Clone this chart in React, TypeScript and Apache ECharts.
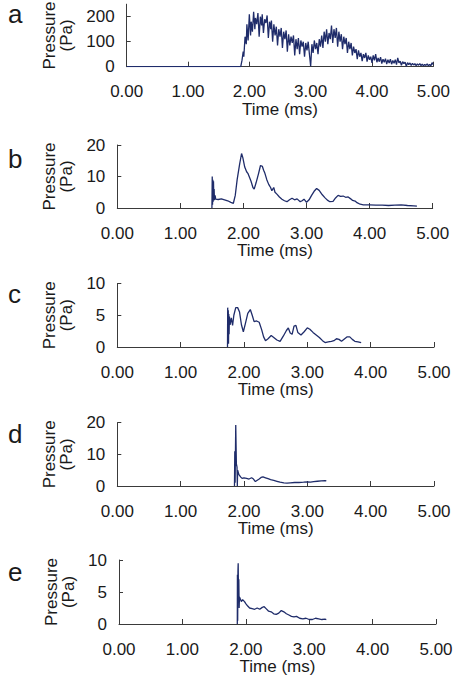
import React, { useEffect, useRef } from "react";
import * as echarts from "echarts";

// ---------- data (time in ms, pressure in Pa) ----------
const panelLetters = ["a", "b", "c", "d", "e"];
const xTicks = [0, 1, 2, 3, 4, 5];

const aYTicks = [0, 100, 200];
const bYTicks = [0, 10, 20];
const cYTicks = [0, 5, 10];
const dYTicks = [0, 10, 20];
const eYTicks = [0, 5, 10];

const panelA: number[][] = [
  [0, 0], [1.86, 0], [1.88, 25], [1.9, 60], [1.91, 40], [1.93, 120], [1.95, 90], [1.96, 170],
  [1.98, 105], [2.0, 210], [2.02, 125], [2.03, 180], [2.05, 140], [2.07, 220], [2.09, 150],
  [2.1, 195], [2.12, 170], [2.14, 215], [2.16, 120], [2.18, 200], [2.2, 165], [2.21, 210],
  [2.23, 135], [2.25, 190], [2.27, 175], [2.29, 205], [2.31, 115], [2.33, 180], [2.35, 150],
  [2.36, 185], [2.38, 100], [2.4, 170], [2.42, 125], [2.44, 160], [2.46, 85], [2.48, 150],
  [2.5, 120], [2.52, 155], [2.54, 75], [2.56, 140], [2.58, 110], [2.6, 145], [2.62, 60],
  [2.64, 130], [2.66, 85], [2.68, 120], [2.7, 95], [2.72, 125], [2.74, 45], [2.76, 110],
  [2.78, 70], [2.8, 115], [2.82, 50], [2.84, 105], [2.86, 80], [2.88, 100], [2.9, 40],
  [2.92, 95], [2.94, 65], [2.96, 100], [2.98, 50], [3.0, 2], [3.02, 90], [3.04, 55],
  [3.06, 105], [3.08, 70], [3.1, 95], [3.12, 50], [3.14, 110], [3.16, 80], [3.18, 125],
  [3.2, 75], [3.22, 140], [3.24, 100], [3.26, 150], [3.28, 90], [3.3, 135], [3.32, 110],
  [3.34, 165], [3.36, 95], [3.38, 150], [3.4, 115], [3.42, 155], [3.44, 80], [3.46, 140],
  [3.48, 100], [3.5, 130], [3.52, 70], [3.54, 120], [3.56, 90], [3.58, 115], [3.6, 55],
  [3.62, 100], [3.64, 70], [3.66, 95], [3.68, 45], [3.7, 80], [3.72, 55], [3.74, 70],
  [3.76, 30], [3.78, 65], [3.8, 40], [3.82, 55], [3.84, 22], [3.86, 50], [3.88, 35],
  [3.9, 55], [3.92, 20], [3.94, 45], [3.96, 28], [3.98, 40], [4.0, 15], [4.02, 45],
  [4.04, 25], [4.06, 50], [4.08, 18], [4.1, 35], [4.12, 20], [4.14, 38], [4.16, 12],
  [4.18, 30], [4.2, 18], [4.22, 32], [4.24, 10], [4.26, 28], [4.28, 15], [4.3, 30],
  [4.32, 10], [4.34, 25], [4.36, 14], [4.38, 28], [4.4, 8], [4.42, 35], [4.44, 15],
  [4.46, 22], [4.48, 6], [4.5, 20], [4.52, 12], [4.54, 18], [4.56, 2], [4.58, 16],
  [4.6, 8], [4.62, 15], [4.64, 5], [4.66, 13], [4.68, 7], [4.7, 12], [4.72, 4],
  [4.74, 11], [4.76, 6], [4.78, 12], [4.8, 4], [4.82, 10], [4.84, 3], [4.86, 9],
  [4.88, 5], [4.9, 11], [4.92, 3], [4.94, 9], [4.96, 4], [4.98, 16], [5.0, 8],
];

const panelB: number[][] = [
  [1.5, 0], [1.505, 10], [1.51, 1], [1.515, 9], [1.52, 2], [1.525, 8.5], [1.53, 3],
  [1.535, 6], [1.54, 2.5], [1.55, 4], [1.56, 2.8], [1.6, 2.7], [1.65, 2.9], [1.7, 2.6],
  [1.75, 2.3], [1.8, 1.8], [1.84, 1.5], [1.87, 4], [1.9, 9], [1.94, 14], [1.97, 17.3],
  [1.99, 16], [2.02, 13], [2.05, 11.5], [2.07, 11], [2.1, 9.5], [2.12, 8.5], [2.15, 6.5],
  [2.17, 6], [2.2, 8], [2.24, 11], [2.27, 13.5], [2.3, 13.2], [2.32, 12], [2.34, 11],
  [2.37, 9], [2.4, 7.5], [2.43, 6.5], [2.45, 5.5], [2.48, 6.5], [2.5, 5], [2.53, 4.4],
  [2.57, 3.5], [2.61, 2.8], [2.65, 2.3], [2.69, 2.0], [2.73, 2.6], [2.77, 3.1], [2.81, 2.6],
  [2.85, 2.9], [2.9, 2.0], [2.93, 2.3], [2.96, 2.8], [3.0, 1.8], [3.04, 2.6], [3.08, 4.0],
  [3.12, 5.3], [3.16, 6.2], [3.2, 5.6], [3.25, 4.2], [3.29, 3.3], [3.33, 2.5], [3.37, 2.0],
  [3.42, 2.1], [3.46, 3.2], [3.5, 4.0], [3.54, 3.7], [3.58, 3.8], [3.62, 3.4], [3.66, 3.5],
  [3.7, 2.9], [3.73, 2.4], [3.77, 2.2], [3.8, 1.7], [3.85, 1.2], [3.9, 1.0], [4.0, 1.0],
  [4.1, 0.9], [4.2, 0.9], [4.3, 0.8], [4.4, 0.9], [4.5, 1.0], [4.6, 0.8], [4.7, 0.7],
  [4.75, 0.6],
];

const panelC: number[][] = [
  [1.74, 0], [1.743, 6.2], [1.748, 1], [1.752, 5.8], [1.756, 0.5], [1.76, 5.2], [1.765, 2],
  [1.77, 4.8], [1.78, 3.5], [1.8, 4.6], [1.82, 3.4], [1.84, 5], [1.87, 6.2], [1.9, 6.2],
  [1.93, 5.5], [1.96, 3.5], [1.99, 2.4], [2.02, 3.6], [2.06, 5.3], [2.1, 5.9], [2.13, 5.0],
  [2.16, 4.0], [2.2, 4.1], [2.24, 3.9], [2.28, 2.7], [2.31, 1.6], [2.34, 1.0], [2.38, 1.3],
  [2.43, 1.8], [2.47, 1.5], [2.52, 1.1], [2.57, 0.9], [2.62, 1.7], [2.67, 2.6], [2.7, 3.0],
  [2.73, 2.2], [2.76, 2.0], [2.79, 3.3], [2.82, 3.4], [2.85, 2.3], [2.9, 1.9], [2.95, 2.4],
  [3.0, 3.0], [3.04, 2.8], [3.09, 2.3], [3.14, 1.9], [3.19, 1.5], [3.24, 1.0], [3.28, 0.7],
  [3.33, 0.8], [3.38, 0.9], [3.42, 1.0], [3.46, 1.3], [3.5, 1.2], [3.54, 0.9], [3.59, 1.3],
  [3.63, 1.6], [3.67, 1.6], [3.71, 1.2], [3.75, 0.9], [3.8, 0.8], [3.85, 0.7],
];

const panelD: number[][] = [
  [1.85, 0], [1.855, 11], [1.86, 1], [1.87, 19.3], [1.88, 7], [1.89, 6], [1.895, 0],
  [1.9, 5], [1.92, 3.6], [1.95, 2.8], [1.97, 2.4], [2.0, 2.6], [2.04, 2.4], [2.08, 2.2],
  [2.12, 2.6], [2.15, 2.2], [2.18, 1.4], [2.21, 1.8], [2.24, 2.2], [2.27, 2.7], [2.3, 2.9],
  [2.34, 2.6], [2.38, 2.3], [2.42, 2.0], [2.47, 1.8], [2.52, 1.5], [2.57, 1.2], [2.63, 1.0],
  [2.68, 0.9], [2.73, 1.0], [2.8, 1.1], [2.87, 1.1], [2.94, 1.2], [3.0, 1.3], [3.05, 1.2],
  [3.1, 1.4], [3.16, 1.5], [3.22, 1.6], [3.28, 1.7], [3.3, 1.6],
];

const panelE: number[][] = [
  [1.866, 0], [1.868, 7.7], [1.872, 0.5], [1.876, 8.2], [1.88, 9.5], [1.885, 4], [1.89, 7],
  [1.895, 2.5], [1.9, 4.2], [1.91, 4.0], [1.93, 3.5], [1.95, 3.8], [1.98, 3.5], [2.0, 3.2],
  [2.03, 2.8], [2.06, 2.5], [2.1, 2.4], [2.14, 2.3], [2.18, 2.5], [2.22, 2.3], [2.26, 2.6],
  [2.29, 2.7], [2.32, 2.4], [2.36, 2.0], [2.4, 1.9], [2.44, 1.6], [2.48, 1.5], [2.52, 1.7],
  [2.56, 2.1], [2.6, 1.9], [2.64, 1.6], [2.68, 1.4], [2.72, 1.2], [2.76, 1.1], [2.8, 1.2],
  [2.85, 0.9], [2.9, 0.8], [2.95, 0.9], [3.0, 0.7], [3.05, 0.7], [3.1, 0.9], [3.15, 0.8],
  [3.2, 0.7], [3.25, 0.75], [3.27, 0.7],
];

// ---------- layout ----------
const FONT = "'Liberation Sans', Arial, sans-serif";
const LINE_COLOR = "#1f2c6a";
const AXIS_COLOR = "#3a3a3a";
const TEXT_COLOR = "#1a1a1a";
const FS = 17;

const panels = [
  { data: panelA, yMax: 250, yTicks: aYTicks, grid: { left: 126.7, top: 4.2, width: 306.6, height: 62.5 }, nameGap: 49, letterTop: 1 },
  { data: panelB, yMax: 20, yTicks: bYTicks, grid: { left: 117.3, top: 145, width: 315.4, height: 63 }, nameGap: 39.5, letterTop: 145.5 },
  { data: panelC, yMax: 10, yTicks: cYTicks, grid: { left: 117.3, top: 283.5, width: 316.7, height: 63.5 }, nameGap: 39.5, letterTop: 281 },
  { data: panelD, yMax: 20, yTicks: dYTicks, grid: { left: 117.3, top: 422.7, width: 316.7, height: 63.3 }, nameGap: 39.5, letterTop: 420.5 },
  { data: panelE, yMax: 10, yTicks: eYTicks, grid: { left: 119, top: 560, width: 317, height: 64 }, nameGap: 40, letterTop: 559.4 },
];

export default function App() {
  const ref = useRef<HTMLDivElement>(null);

  useEffect(() => {
    if (!ref.current) return;
    const chart = echarts.init(ref.current, null, { renderer: "svg" });

    const grids = panels.map((p) => ({ ...p.grid, containLabel: false, outerBoundsMode: "none" }));

    const xAxes = panels.map((p, i) => ({
      type: "value",
      gridIndex: i,
      min: 0,
      max: 5,
      interval: 1,
      name: "Time (ms)",
      nameLocation: "middle",
      nameGap: 33.5,
      nameTextStyle: { fontFamily: FONT, fontSize: FS, color: TEXT_COLOR },
      axisLine: { show: true, lineStyle: { color: AXIS_COLOR, width: 1 } },
      axisTick: { show: true, inside: true, length: 5, lineStyle: { color: AXIS_COLOR, width: 1 }, customValues: xTicks },
      axisLabel: {
        fontFamily: FONT,
        fontSize: FS,
        color: TEXT_COLOR,
        margin: 16.5,
        customValues: xTicks,
        formatter: (v: number) => v.toFixed(2),
      },
      splitLine: { show: false },
    }));

    const yAxes = panels.map((p, i) => ({
      type: "value",
      gridIndex: i,
      min: 0,
      max: p.yMax,
      name: "Pressure\n(Pa)",
      nameLocation: "middle",
      nameRotate: 90,
      nameGap: p.nameGap,
      nameTextStyle: { fontFamily: FONT, fontSize: FS, color: TEXT_COLOR, lineHeight: 17, align: "center" },
      axisLine: { show: true, lineStyle: { color: AXIS_COLOR, width: 1 } },
      axisTick: { show: true, inside: true, length: 4, lineStyle: { color: AXIS_COLOR, width: 1 }, customValues: p.yTicks },
      axisLabel: {
        fontFamily: FONT,
        fontSize: FS,
        color: TEXT_COLOR,
        margin: 12,
        customValues: p.yTicks,
      },
      splitLine: { show: false },
    }));

    const series = panels.map((p, i) => ({
      type: "line",
      xAxisIndex: i,
      yAxisIndex: i,
      data: p.data,
      showSymbol: false,
      symbol: "none",
      lineStyle: { color: LINE_COLOR, width: 1.3 },
      silent: true,
    }));

    const graphic = panels.map((p, i) => ({
      type: "text",
      left: 8,
      top: p.letterTop,
      style: {
        text: panelLetters[i],
        fontFamily: FONT,
        fontSize: 26,
        fill: TEXT_COLOR,
      },
    }));

    chart.setOption({
      animation: false,
      backgroundColor: "#ffffff",
      grid: grids,
      xAxis: xAxes,
      yAxis: yAxes,
      series,
      graphic,
    } as any);

    return () => chart.dispose();
  }, []);

  return (
    <div
      ref={ref}
      style={{ position: "fixed", left: 0, top: 0, width: 455, height: 685, background: "#fff" }}
    />
  );
}
